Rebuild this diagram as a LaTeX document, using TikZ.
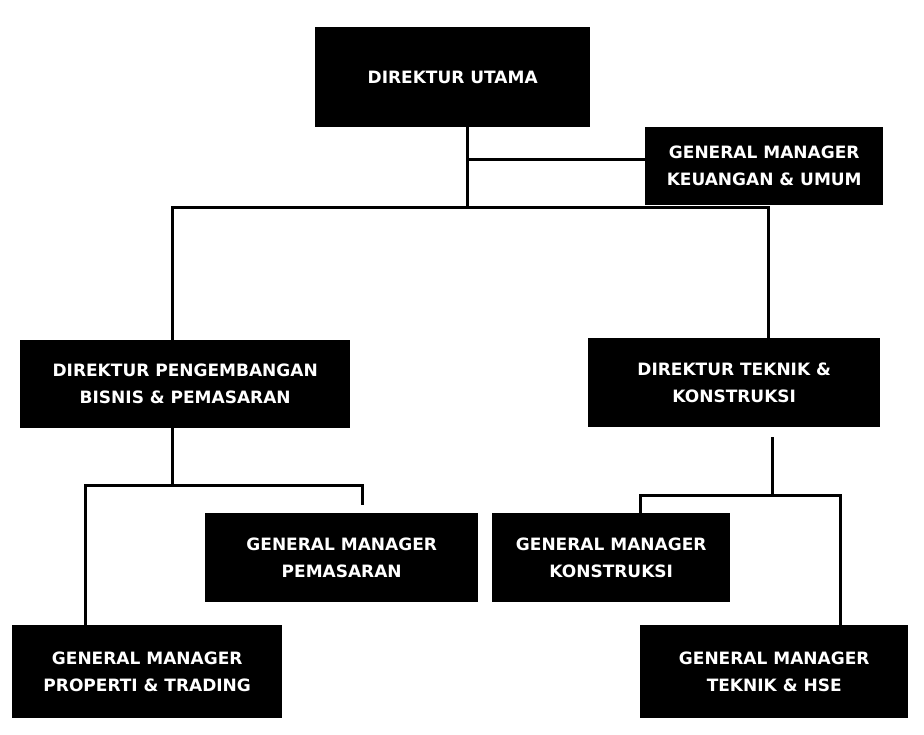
\documentclass[tikz,border=0pt]{standalone}
\usepackage{fontspec}
\setmainfont{DejaVu Sans}
\begin{document}
\begin{tikzpicture}[x=1pt,y=-1pt,
  box/.style={fill=black,text=white,font=\bfseries\fontsize{17}{27}\selectfont,align=center,inner sep=0pt,anchor=north west},
  ln/.style={line width=3pt}]
\useasboundingbox (0,0) rectangle (924,735);
\node[box,minimum width=275,minimum height=100] (du) at (315,27) {DIREKTUR UTAMA};
\node[box,minimum width=238,minimum height=78] (gk) at (645,127) {GENERAL MANAGER\\KEUANGAN \& UMUM};
\node[box,minimum width=330,minimum height=88] (dp) at (20,340) {DIREKTUR PENGEMBANGAN\\BISNIS \& PEMASARAN};
\node[box,minimum width=292,minimum height=89] (dt) at (588,338) {DIREKTUR TEKNIK \&\\KONSTRUKSI};
\node[box,minimum width=273,minimum height=89] (gp) at (205,513) {GENERAL MANAGER\\PEMASARAN};
\node[box,minimum width=238,minimum height=89] (gkn) at (492,513) {GENERAL MANAGER\\KONSTRUKSI};
\node[box,minimum width=270,minimum height=93] (gpr) at (12,625) {GENERAL MANAGER\\PROPERTI \& TRADING};
\node[box,minimum width=268,minimum height=93] (gt) at (640,625) {GENERAL MANAGER\\TEKNIK \& HSE};
\coordinate (j1) at (467,208);
\coordinate (j2) at (467,160);
\coordinate (a1) at (172,208);
\coordinate (a2) at (768,208);
\coordinate (b1) at (172,485);
\coordinate (b2) at (85,485);
\coordinate (b3) at (362,485);
\coordinate (c1) at (772,495);
\coordinate (c2) at (640,495);
\coordinate (c3) at (840,495);
\draw[ln] (du.south -| j1) -- (j1);
\draw[ln] (j2) -- (gk.west |- j2);
\draw[ln] (dp.north -| a1) -- (a1) -- (a2) -- (dt.north -| a2);
\draw[ln] (dp.south -| b1) -- (b1);
\draw[ln] (gpr.north -| b2) -- (b2) -- (b3) -- ++(0,20);
\draw[ln] (772,437) -- (c1);
\draw[ln] (gkn.north -| c2) -- (c2) -- (c3) -- (gt.north -| c3);
\end{tikzpicture}
\end{document}
